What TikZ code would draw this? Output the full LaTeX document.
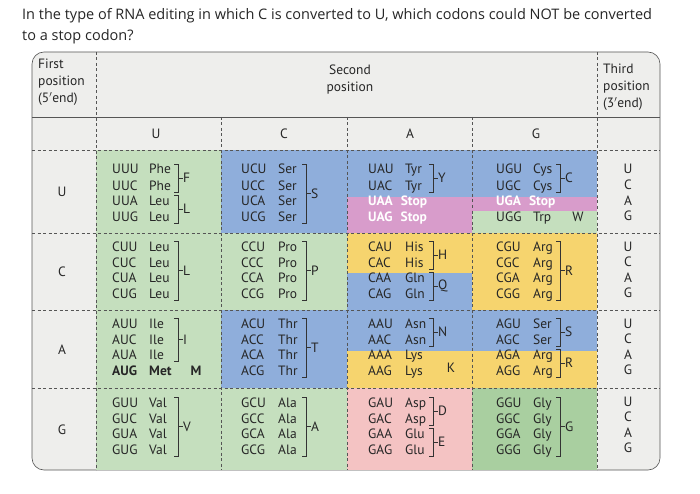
\documentclass[tikz,border=0pt]{standalone}
\usepackage{fontspec}
\setmainfont{Open Sans}
\newfontfamily\tbl{PT Sans}
\definecolor{bgg}{HTML}{EEEEEC}
\definecolor{lg}{HTML}{C5DFBE}
\definecolor{dg}{HTML}{A9CFA0}
\definecolor{bl}{HTML}{8FAEDB}
\definecolor{ye}{HTML}{F6D46E}
\definecolor{pk}{HTML}{D89CCB}
\definecolor{lp}{HTML}{F4C3C3}
\definecolor{ln}{HTML}{555555}
\begin{document}
\begin{tikzpicture}[x=1pt,y=-1pt,
  t/.style={font=\tbl\fontsize{13.5}{13}\selectfont,text=black!85,inner sep=0pt,anchor=base west},
  lt/.style={font=\tbl\fontsize{13.5}{13}\selectfont,text=black!85,inner sep=0pt},
  st/.style={font=\tbl\bfseries\fontsize{13.5}{13}\selectfont,text=white,inner sep=0pt,anchor=base west},
  dl/.style={draw=ln,dashed,line width=0.5pt,dash pattern=on 3pt off 2.5pt},
  brk/.style={draw=black!80,line width=0.7pt}]
\useasboundingbox (0,0) rectangle (700,494);
\fill[white] (0,0) rectangle (700,494);
\node[font=\fontsize{14.5}{21}\selectfont,anchor=north west,align=left,inner sep=0pt,text=black!85] (q) at (22,8)
 {In the type of RNA editing in which C is converted to U, which codons could NOT be converted\\to a stop codon?};
\draw[fill=bgg,draw=ln,rounded corners=12pt,line width=0.6pt] (32,52) rectangle (660,470);
% colours
\fill[lg] (96,150) rectangle (221,470);
\fill[bl] (221,150) rectangle (347,233);
\fill[lg] (221,233) rectangle (347,310);
\fill[bl] (221,310) rectangle (347,388);
\fill[lg] (221,388) rectangle (347,470);
\fill[bl] (347,150) rectangle (472,197);
\fill[pk] (347,197) rectangle (472,233);
\fill[ye] (347,233) rectangle (472,273);
\fill[bl] (347,273) rectangle (472,310);
\fill[bl] (347,310) rectangle (472,351);
\fill[ye] (347,351) rectangle (472,388);
\fill[lp] (347,388) rectangle (472,470);
\fill[bl] (472,150) rectangle (597,197);
\fill[pk] (472,197) rectangle (597,211);
\fill[lg] (472,211) rectangle (597,233);
\fill[ye] (472,233) rectangle (597,310);
\fill[bl] (472,310) rectangle (597,351);
\fill[ye] (472,351) rectangle (597,388);
\fill[dg] (472,388) rectangle (597,470);
% lines
\draw[draw=ln,line width=0.6pt] (32,117) -- (660,117);
\draw[dl] (96,52) -- (96,470);
\draw[dl] (597,52) -- (597,470);
\foreach \x in {221,347,472} \draw[dl] (\x,117) -- (\x,470);
\foreach \y in {150,233,310,388} \draw[dl] (32,\y) -- (660,\y);
% headers
\node[lt,anchor=north west,align=left,font=\tbl\fontsize{13.5}{17}\selectfont] (h1) at (38,59) {First\\position\\(5$'$end)};
\node[lt,align=center,font=\tbl\fontsize{13.5}{17}\selectfont] (h2) at (350,80) {Second\\position};
\node[lt,anchor=north west,align=left,font=\tbl\fontsize{13.5}{17}\selectfont] (h3) at (603,64) {Third\\position\\(3$'$end)};
\node[lt] (cu) at (156,134) {U};
\node[lt] (cc) at (284,134) {C};
\node[lt] (ca) at (410,134) {A};
\node[lt] (cg) at (536,134) {G};
\node[lt] (ru) at (62,192) {U};
\node[lt] (rc) at (62,272) {C};
\node[lt] (ra) at (62,350) {A};
\node[lt] (rg) at (62,430) {G};
\foreach \y/\n in {170/a,247/b,324/c,402/d}{
  \foreach \l [count=\i from 0] in {U,C,A,G}
    \node[lt,anchor=base] (th\n\i) at (628,\y+4+15.5*\i) {\l};}
\newcommand\cod[5]{% x, y, codon, aa, name
  \node[t] (#5) at (#1,#2) {#3};
  \node[t] at (#1+37,#2) {#4};}
\newcommand\brk[4]{% x, ytop, ybot (baselines), letter
  \draw[brk] (#1-4,#2-10) -- (#1,#2-10) -- (#1,#3+2) -- (#1-4,#3+2);
  \draw[brk] (#1,{(#2+#3)/2-4}) -- (#1+5,{(#2+#3)/2-4});
  \node[lt,anchor=west] at (#1+5,{(#2+#3)/2-4}) {#4};}
% U row
\cod{112}{174}{UUU}{Phe}{uuu}\cod{112}{190}{UUC}{Phe}{uuc}\cod{112}{205}{UUA}{Leu}{uua}\cod{112}{221}{UUG}{Leu}{uug}
\brk{178}{174}{190}{F}\brk{178}{205}{221}{L}
\cod{241}{174}{UCU}{Ser}{ucu}\cod{241}{190}{UCC}{Ser}{ucc}\cod{241}{205}{UCA}{Ser}{uca}\cod{241}{221}{UCG}{Ser}{ucg}
\brk{306}{174}{221}{S}
\cod{368}{174}{UAU}{Tyr}{uau}\cod{368}{190}{UAC}{Tyr}{uac}
\node[st] (uaa) at (368,205) {UAA\hspace{8pt}Stop};
\node[st] (uag) at (368,221) {UAG\hspace{8pt}Stop};
\brk{433}{174}{190}{Y}
\cod{496}{174}{UGU}{Cys}{ugu}\cod{496}{190}{UGC}{Cys}{ugc}
\node[st] (uga) at (496,205) {UGA\hspace{8pt}Stop};
\cod{496}{221}{UGG}{Trp}{ugg}
\node[lt,anchor=base] (w) at (578,221) {W};
\brk{560}{174}{190}{C}
% C row
\cod{112}{251}{CUU}{Leu}{cuu}\cod{112}{267}{CUC}{Leu}{cuc}\cod{112}{282}{CUA}{Leu}{cua}\cod{112}{298}{CUG}{Leu}{cug}
\brk{178}{251}{298}{L}
\cod{241}{251}{CCU}{Pro}{ccu}\cod{241}{267}{CCC}{Pro}{ccc}\cod{241}{282}{CCA}{Pro}{cca}\cod{241}{298}{CCG}{Pro}{ccg}
\brk{306}{251}{298}{P}
\cod{368}{251}{CAU}{His}{cau}\cod{368}{267}{CAC}{His}{cac}\cod{368}{282}{CAA}{Gln}{caa}\cod{368}{298}{CAG}{Gln}{cag}
\brk{433}{251}{267}{H}\brk{433}{282}{298}{Q}
\cod{496}{251}{CGU}{Arg}{cgu}\cod{496}{267}{CGC}{Arg}{cgc}\cod{496}{282}{CGA}{Arg}{cga}\cod{496}{298}{CGG}{Arg}{cgg}
\brk{560}{251}{298}{R}
% A row
\cod{112}{328}{AUU}{Ile}{auu}\cod{112}{344}{AUC}{Ile}{auc}\cod{112}{359}{AUA}{Ile}{aua}
\node[t,font=\tbl\bfseries\fontsize{13.5}{13}\selectfont] (aug) at (112,375) {AUG};
\node[t,font=\tbl\bfseries\fontsize{13.5}{13}\selectfont] at (149,375) {Met};
\node[t,font=\tbl\bfseries\fontsize{13.5}{13}\selectfont,anchor=base] (m) at (196,375) {M};
\brk{178}{328}{359}{I}
\cod{241}{328}{ACU}{Thr}{acu}\cod{241}{344}{ACC}{Thr}{acc}\cod{241}{359}{ACA}{Thr}{aca}\cod{241}{375}{ACG}{Thr}{acg}
\brk{306}{328}{375}{T}
\cod{368}{328}{AAU}{Asn}{aau}\cod{368}{344}{AAC}{Asn}{aac}\cod{368}{359}{AAA}{Lys}{aaa}\cod{368}{375}{AAG}{Lys}{aag}
\brk{433}{328}{344}{N}
\node[lt,anchor=base] (k) at (451,372) {K};
\cod{496}{328}{AGU}{Ser}{agu}\cod{496}{344}{AGC}{Ser}{agc}\cod{496}{359}{AGA}{Arg}{aga}\cod{496}{375}{AGG}{Arg}{agg}
\brk{560}{328}{344}{S}\brk{560}{359}{375}{R}
% G row
\cod{112}{407}{GUU}{Val}{guu}\cod{112}{423}{GUC}{Val}{guc}\cod{112}{438}{GUA}{Val}{gua}\cod{112}{454}{GUG}{Val}{gug}
\brk{178}{407}{454}{V}
\cod{241}{407}{GCU}{Ala}{gcu}\cod{241}{423}{GCC}{Ala}{gcc}\cod{241}{438}{GCA}{Ala}{gca}\cod{241}{454}{GCG}{Ala}{gcg}
\brk{306}{407}{454}{A}
\cod{368}{407}{GAU}{Asp}{gau}\cod{368}{423}{GAC}{Asp}{gac}\cod{368}{438}{GAA}{Glu}{gaa}\cod{368}{454}{GAG}{Glu}{gag}
\brk{433}{407}{423}{D}\brk{433}{438}{454}{E}
\cod{496}{407}{GGU}{Gly}{ggu}\cod{496}{423}{GGC}{Gly}{ggc}\cod{496}{438}{GGA}{Gly}{gga}\cod{496}{454}{GGG}{Gly}{ggg}
\brk{560}{407}{454}{G}
\end{tikzpicture}
\end{document}
